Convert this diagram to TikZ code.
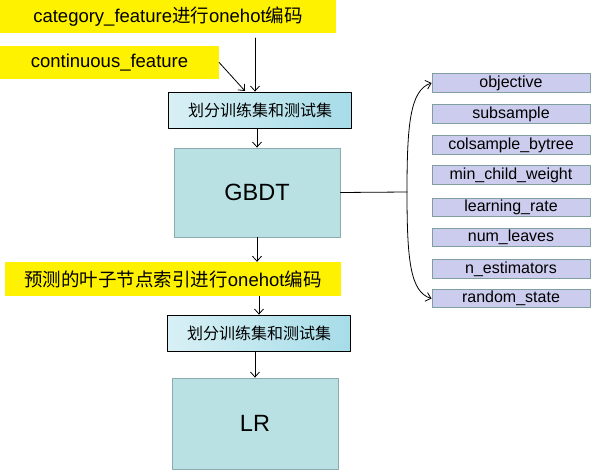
\documentclass[tikz,border=0pt]{standalone}
\usepackage{fontspec}
\setmainfont{Liberation Sans}
\newfontfamily\cjk{Noto Sans CJK SC}
\usepackage{xcolor}
\usetikzlibrary{arrows.meta}
\definecolor{gbdtfill}{HTML}{B9E0E3}
\definecolor{gbdtline}{HTML}{8AAAAE}
\definecolor{parfill}{HTML}{CCCCEE}
\definecolor{parline}{HTML}{7F9F9F}
\definecolor{splitleft}{HTML}{D8F0F5}
\definecolor{splitright}{HTML}{A6DCE8}

\begin{document}
\begin{tikzpicture}[x=1pt, y=-1pt, line join = round, line cap = round,
    >={Straight Barb[length=5pt,width=9pt]},
    feat/.style={fill=yellow, inner sep=0pt, font=\fontsize{18.5}{20}\selectfont, minimum height=33pt},
    splitbox/.style={draw=black, line width=0.8pt, left color=splitleft, right color=splitright,
        minimum width=183pt, minimum height=36pt, inner sep=0pt, font=\fontsize{16}{18}\selectfont},
    model/.style={draw=gbdtline, line width=0.8pt, fill=gbdtfill, minimum width=166pt,
        inner sep=0pt, font=\fontsize{23.5}{26}\selectfont},
    param/.style={draw=parline, line width=0.8pt, fill=parfill, minimum width=158pt,
        minimum height=18.5pt, inner sep=0pt, text height=11.5pt, text depth=3.4pt,
        font=\fontsize{16}{18}\selectfont},
    conn/.style={line width=0.8pt}]
                \useasboundingbox (0,0) rectangle (595,471);
                \node[feat, minimum width=336pt] (cat) at (168,16.5) {category\_feature{\cjk 进行}onehot{\cjk 编码}};
                \node[feat, minimum width=219pt] (cont) at (109.5,62.5) {continuous\_feature};
                \node[splitbox] (split1) at (260,110) {\cjk 划分训练集和测试集};
                \node[model, minimum height=89pt] (gbdt) at (257,192.5) {GBDT};
                \node[feat, minimum width=336pt, minimum height=34pt] (leaf) at (173,279) {{\cjk 预测的叶子节点索引进行}onehot{\cjk 编码}};
                \node[splitbox] (split2) at (259,333) {\cjk 划分训练集和测试集};
                \node[model, minimum height=91pt] (lr) at (255,423.5) {LR};
                \foreach \name/\y [count=\i] in {objective/83, subsample/114, colsample\_bytree/145,
                    min\_child\_weight/175, learning\_rate/207.5, num\_leaves/237.5,
                    n\_estimators/269, random\_state/298.5}
                  \node[param] (p\i) at (511,\y) {\name};
                \coordinate (catout) at (255,38);
                \coordinate (contin) at (245,91);
                \coordinate (brace) at (407,192);
                \draw[conn, ->] (catout) -- (catout |- split1.north);
                \draw[conn, ->] (cont.east) -- (contin);
                \draw[conn, ->] (split1.south -| gbdt.north) -- (gbdt.north);
                \draw[conn, ->] (gbdt.south) -- (gbdt.south |- leaf.north);
                \draw[conn, ->] (split2.north |- leaf.south) -- (split2.north);
                \draw[conn, ->] (split2.south -| lr.north) -- (lr.north);
                \draw[conn] (gbdt.east) -- (brace);
                \draw[conn, ->] (brace) .. controls (407,125) and (410,90) .. (p1.west);
                \draw[conn, ->] (brace) .. controls (407,259) and (410,292) .. (p8.west);
              \end{tikzpicture}
\end{document}
